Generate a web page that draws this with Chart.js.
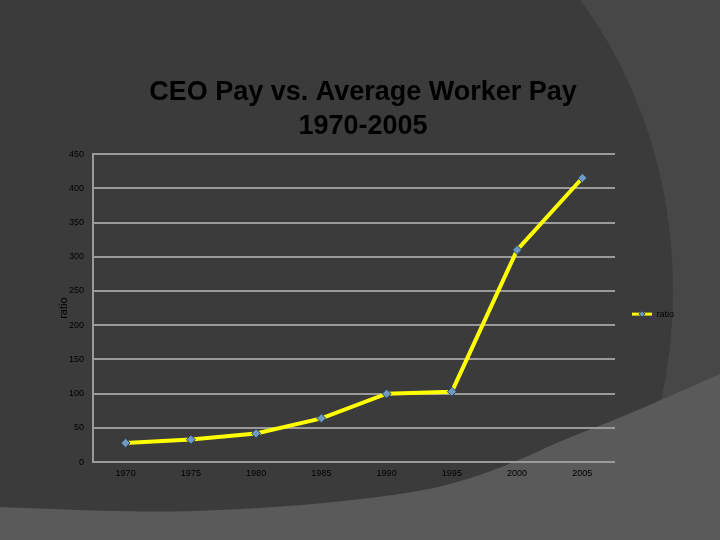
<!DOCTYPE html>
<html>
<head>
<meta charset="utf-8">
<script src="https://cdn.jsdelivr.net/npm/chart.js@4"></script>
<style>
  html, body { margin: 0; padding: 0; background: #3b3b3b; }
  #wrap { width: 720px; height: 540px; position: relative; }
</style>
</head>
<body>
<div id="wrap"><canvas id="c" width="720" height="540"></canvas></div>
<script>
const categories = ['1970', '1975', '1980', '1985', '1990', '1995', '2000', '2005'];
const ratioValues = [28, 33, 42, 64, 100, 103, 310, 415];
const seriesName = 'ratio';
const titleLines = ['CEO Pay vs. Average Worker Pay', '1970-2005'];
const yAxisTitle = 'ratio';

Chart.defaults.font.family = '"Liberation Sans", Arial, sans-serif';

const PAD_L = 42, PAD_R = 36;

const backgroundPlugin = {
  id: 'slideBackground',
  beforeDraw(chart) {
    const ctx = chart.ctx;
    ctx.save();
    ctx.fillStyle = '#3b3b3b';
    ctx.fillRect(0, 0, chart.width, chart.height);
    ctx.fillStyle = '#474747';
    ctx.fillRect(300, 0, chart.width - 300, chart.height);
    ctx.fillStyle = '#3b3b3b';
    ctx.beginPath();
    ctx.ellipse(300, 290, 373, 439, 0, 0, Math.PI * 2);
    ctx.fill();
    const pts = [[0,507],[100,511],[184,512],[300,506],[413,493],[467,480],[520,460],[560,441],[620,418],[720,374]];
    ctx.fillStyle = '#5a5a5a';
    ctx.beginPath();
    ctx.moveTo(0, 540);
    ctx.lineTo(pts[0][0], pts[0][1]);
    for (let i = 1; i < pts.length - 1; i++) {
      const mx = (pts[i][0] + pts[i+1][0]) / 2, my = (pts[i][1] + pts[i+1][1]) / 2;
      ctx.quadraticCurveTo(pts[i][0], pts[i][1], mx, my);
    }
    ctx.lineTo(pts[pts.length-1][0], pts[pts.length-1][1]);
    ctx.lineTo(720, 540);
    ctx.closePath();
    ctx.fill();
    ctx.restore();
  }
};

const legendSymbolPlugin = {
  id: 'legendSymbol',
  afterDraw(chart) {
    const lg = chart.legend;
    if (!lg || !lg.legendHitBoxes || !lg.legendHitBoxes.length) return;
    const hb = lg.legendHitBoxes[0];
    const ctx = chart.ctx;
    const y = hb.top + hb.height / 2;
    const x0 = hb.left, x1 = hb.left + 20;
    ctx.save();
    ctx.strokeStyle = '#ffff00';
    ctx.lineWidth = 3;
    ctx.beginPath();
    ctx.moveTo(x0, y);
    ctx.lineTo(x1, y);
    ctx.stroke();
    const cx = (x0 + x1) / 2, r = 3;
    ctx.fillStyle = '#7199c0';
    ctx.strokeStyle = '#2c4a68';
    ctx.lineWidth = 1;
    ctx.beginPath();
    ctx.moveTo(cx, y - r); ctx.lineTo(cx + r, y); ctx.lineTo(cx, y + r); ctx.lineTo(cx - r, y);
    ctx.closePath();
    ctx.fill(); ctx.stroke();
    ctx.restore();
  }
};

new Chart(document.getElementById('c'), {
  type: 'line',
  data: {
    labels: categories,
    datasets: [{
      label: seriesName,
      data: ratioValues,
      borderColor: '#ffff00',
      borderWidth: 4,
      tension: 0,
      pointStyle: 'rectRot',
      pointRadius: 4.5,
      pointBackgroundColor: '#7199c0',
      pointBorderColor: '#2c4a68',
      pointBorderWidth: 1,
      fill: false
    }]
  },
  options: {
    responsive: false,
    animation: false,
    layout: { padding: { left: PAD_L, right: PAD_R, top: 0, bottom: 55 } },
    plugins: {
      title: {
        display: true,
        text: titleLines,
        color: '#000000',
        font: { size: 27, weight: 'bold', lineHeight: 1.26 },
        padding: { top: 76, bottom: 10 }
      },
      legend: {
        display: true,
        position: 'right',
        fullSize: false,
        title: { display: true, text: ' ', padding: 0, font: { size: 10, lineHeight: 1.2 } },
        labels: {
          boxWidth: 20,
          boxHeight: 0,
          padding: 17,
          color: '#000000',
          font: { size: 9 },
          generateLabels(chart) {
            return chart.data.datasets.map((ds, i) => ({
              text: ds.label,
              fillStyle: 'rgba(0,0,0,0)',
              strokeStyle: 'rgba(0,0,0,0)',
              lineWidth: 0,
              fontColor: '#000000',
              datasetIndex: i,
              hidden: false
            }));
          }
        }
      },
      tooltip: { enabled: false }
    },
    scales: {
      x: {
        offset: true,
        grid: { display: false, drawTicks: false },
        border: { display: true, color: '#9a9a9a', width: 2 },
        ticks: { color: '#000000', font: { size: 9 }, padding: 6, maxRotation: 0 }
      },
      y: {
        min: 0,
        max: 450,
        afterFit(scale) { scale.width = 93 - PAD_L; },
        ticks: { stepSize: 50, color: '#000000', font: { size: 9 }, padding: 9 },
        grid: { color: '#9a9a9a', lineWidth: 2, drawTicks: false },
        border: { display: true, color: '#9a9a9a', width: 2 },
        title: { display: true, text: yAxisTitle, color: '#000000', font: { size: 11 }, padding: { top: 15, bottom: 0 } }
      }
    }
  },
  plugins: [backgroundPlugin, legendSymbolPlugin]
});
</script>
</body>
</html>
